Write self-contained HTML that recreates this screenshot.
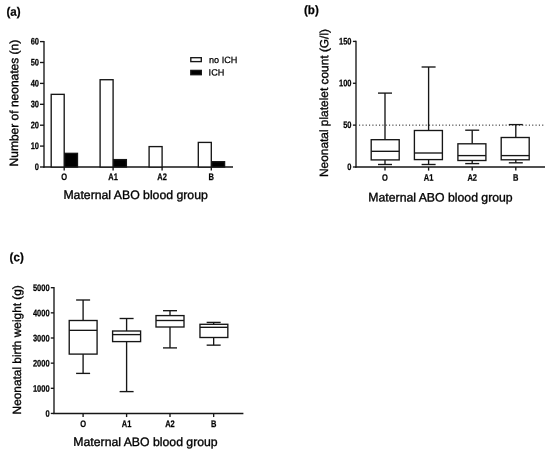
<!DOCTYPE html>
<html lang="en"><head><meta charset="utf-8"><title>Figure</title>
<style>
html,body{margin:0;padding:0;background:#fff;}
svg{display:block;}
svg line,svg rect{stroke:#161616;stroke-width:1.35;shape-rendering:geometricPrecision;}
svg line{stroke-linecap:butt;}
text{font-family:"Liberation Sans",sans-serif;fill:#000;}
.tk{font-size:9.5px;font-weight:bold;stroke:#111;stroke-width:0.26px;}
.ti{font-size:12.25px;stroke:#000;stroke-width:0.34px;}
.tv{font-size:12.0px;}
.lg{font-size:9.1px;stroke:#000;stroke-width:0.25px;}
.pl{font-size:12.2px;font-weight:bold;stroke:#111;stroke-width:0.25px;}
</style></head><body>
<svg width="550" height="456" viewBox="0 0 550 456">
<rect x="0" y="0" width="550" height="456" fill="#fff" style="stroke:none"/>
<line x1="44.00" y1="40.93" x2="44.00" y2="167.68" />
<line x1="43.33" y1="167.00" x2="233.00" y2="167.00" />
<line x1="40.00" y1="167.00" x2="44.00" y2="167.00" />
<text transform="translate(39.00,170.00) rotate(0.1) scale(0.79,1)" class="tk" text-anchor="end">0</text>
<line x1="40.00" y1="146.10" x2="44.00" y2="146.10" />
<text transform="translate(39.00,149.10) rotate(0.1) scale(0.79,1)" class="tk" text-anchor="end">10</text>
<line x1="40.00" y1="125.20" x2="44.00" y2="125.20" />
<text transform="translate(39.00,128.20) rotate(0.1) scale(0.79,1)" class="tk" text-anchor="end">20</text>
<line x1="40.00" y1="104.30" x2="44.00" y2="104.30" />
<text transform="translate(39.00,107.30) rotate(0.1) scale(0.79,1)" class="tk" text-anchor="end">30</text>
<line x1="40.00" y1="83.40" x2="44.00" y2="83.40" />
<text transform="translate(39.00,86.40) rotate(0.1) scale(0.79,1)" class="tk" text-anchor="end">40</text>
<line x1="40.00" y1="62.50" x2="44.00" y2="62.50" />
<text transform="translate(39.00,65.50) rotate(0.1) scale(0.79,1)" class="tk" text-anchor="end">50</text>
<line x1="40.00" y1="41.60" x2="44.00" y2="41.60" />
<text transform="translate(39.00,44.60) rotate(0.1) scale(0.79,1)" class="tk" text-anchor="end">60</text>
<line x1="64.20" y1="167.00" x2="64.20" y2="170.60" />
<text transform="translate(64.20,180.00) rotate(0.1) scale(0.79,1)" class="tk" text-anchor="middle">O</text>
<line x1="113.10" y1="167.00" x2="113.10" y2="170.60" />
<text transform="translate(113.10,180.00) rotate(0.1) scale(0.79,1)" class="tk" text-anchor="middle">A1</text>
<line x1="162.10" y1="167.00" x2="162.10" y2="170.60" />
<text transform="translate(162.10,180.00) rotate(0.1) scale(0.79,1)" class="tk" text-anchor="middle">A2</text>
<line x1="211.30" y1="167.00" x2="211.30" y2="170.60" />
<text transform="translate(211.30,180.00) rotate(0.1) scale(0.79,1)" class="tk" text-anchor="middle">B</text>
<rect x="51.20" y="94.35" width="13.00" height="72.65" fill="#fff"/>
<rect x="64.67" y="153.35" width="12.80" height="13.65" fill="#000"/>
<rect x="100.10" y="79.72" width="13.00" height="87.28" fill="#fff"/>
<rect x="113.57" y="159.62" width="12.80" height="7.38" fill="#000"/>
<rect x="149.10" y="146.60" width="13.00" height="20.40" fill="#fff"/>
<rect x="198.30" y="142.42" width="13.00" height="24.58" fill="#fff"/>
<rect x="211.78" y="161.71" width="12.80" height="5.29" fill="#000"/>
<rect x="190.80" y="57.70" width="10.50" height="3.90" fill="#fff"/>
<rect x="190.80" y="70.40" width="10.50" height="4.30" fill="#000"/>
<text transform="translate(209.00,63.00) rotate(0.1)" class="lg" text-anchor="start" >no ICH</text>
<text transform="translate(208.60,75.60) rotate(0.1)" class="lg" text-anchor="start" >ICH</text>
<text transform="translate(6.5,15.8) rotate(0.1) scale(0.95,1)" class="pl">(a)</text>
<text transform="translate(135.60,199.00) rotate(0.1)" class="ti" text-anchor="middle" >Maternal ABO blood group</text>
<text transform="translate(18.2,103.1) rotate(-89.9)" class="ti tv" text-anchor="middle">Number of neonates (n)</text>
<line x1="356.00" y1="40.73" x2="356.00" y2="167.68" />
<line x1="355.32" y1="167.00" x2="545.00" y2="167.00" />
<line x1="352.90" y1="167.00" x2="356.00" y2="167.00" />
<text transform="translate(351.50,170.00) rotate(0.1) scale(0.79,1)" class="tk" text-anchor="end">0</text>
<line x1="352.90" y1="125.13" x2="356.00" y2="125.13" />
<text transform="translate(351.50,128.13) rotate(0.1) scale(0.79,1)" class="tk" text-anchor="end">50</text>
<line x1="352.90" y1="83.27" x2="356.00" y2="83.27" />
<text transform="translate(351.50,86.27) rotate(0.1) scale(0.79,1)" class="tk" text-anchor="end">100</text>
<line x1="352.90" y1="41.40" x2="356.00" y2="41.40" />
<text transform="translate(351.50,44.40) rotate(0.1) scale(0.79,1)" class="tk" text-anchor="end">150</text>
<line x1="385.00" y1="167.00" x2="385.00" y2="170.60" />
<text transform="translate(385.00,180.70) rotate(0.1) scale(0.79,1)" class="tk" text-anchor="middle">O</text>
<line x1="428.60" y1="167.00" x2="428.60" y2="170.60" />
<text transform="translate(428.60,180.70) rotate(0.1) scale(0.79,1)" class="tk" text-anchor="middle">A1</text>
<line x1="472.20" y1="167.00" x2="472.20" y2="170.60" />
<text transform="translate(472.20,180.70) rotate(0.1) scale(0.79,1)" class="tk" text-anchor="middle">A2</text>
<line x1="515.80" y1="167.00" x2="515.80" y2="170.60" />
<text transform="translate(515.80,180.70) rotate(0.1) scale(0.79,1)" class="tk" text-anchor="middle">B</text>
<line x1="359.05" y1="125.13" x2="545.00" y2="125.13" stroke-dasharray="1.1 2.23" style="stroke:#111;stroke-width:1.0"/>
<line x1="385.00" y1="93.10" x2="385.00" y2="139.70" />
<line x1="385.00" y1="159.90" x2="385.00" y2="164.50" />
<line x1="378.00" y1="93.10" x2="392.00" y2="93.10" />
<line x1="378.00" y1="164.50" x2="392.00" y2="164.50" />
<rect x="371.20" y="139.70" width="28.00" height="20.20" fill="#fff"/>
<line x1="371.20" y1="151.30" x2="399.20" y2="151.30" />
<line x1="428.60" y1="67.00" x2="428.60" y2="130.50" />
<line x1="428.60" y1="159.60" x2="428.60" y2="164.50" />
<line x1="421.60" y1="67.00" x2="435.60" y2="67.00" />
<line x1="421.60" y1="164.50" x2="435.60" y2="164.50" />
<rect x="414.40" y="130.50" width="28.00" height="29.10" fill="#fff"/>
<line x1="414.40" y1="153.00" x2="442.40" y2="153.00" />
<line x1="472.20" y1="130.20" x2="472.20" y2="143.80" />
<line x1="472.20" y1="160.50" x2="472.20" y2="163.60" />
<line x1="465.20" y1="130.20" x2="479.20" y2="130.20" />
<line x1="465.20" y1="163.60" x2="479.20" y2="163.60" />
<rect x="457.90" y="143.80" width="28.00" height="16.70" fill="#fff"/>
<line x1="457.90" y1="155.60" x2="485.90" y2="155.60" />
<line x1="515.80" y1="124.60" x2="515.80" y2="137.50" />
<line x1="515.80" y1="159.80" x2="515.80" y2="162.80" />
<line x1="508.80" y1="124.60" x2="522.80" y2="124.60" />
<line x1="508.80" y1="162.80" x2="522.80" y2="162.80" />
<rect x="501.20" y="137.50" width="28.00" height="22.30" fill="#fff"/>
<line x1="501.20" y1="155.60" x2="529.20" y2="155.60" />
<text transform="translate(304.0,14.1) rotate(0.1) scale(0.95,1)" class="pl">(b)</text>
<text transform="translate(440.50,201.50) rotate(0.1)" class="ti" text-anchor="middle" >Maternal ABO blood group</text>
<text transform="translate(328.1,103.0) rotate(-89.9)" class="ti tv" style="font-size:11.9px" text-anchor="middle">Neonatal platelet count (G/l)</text>
<line x1="54.00" y1="287.02" x2="54.00" y2="414.12" />
<line x1="53.33" y1="413.45" x2="243.40" y2="413.45" />
<line x1="50.80" y1="413.45" x2="54.00" y2="413.45" />
<text transform="translate(49.60,416.85) rotate(0.1) scale(0.79,1)" class="tk" text-anchor="end">0</text>
<line x1="50.80" y1="388.30" x2="54.00" y2="388.30" />
<text transform="translate(49.60,391.70) rotate(0.1) scale(0.79,1)" class="tk" text-anchor="end">1000</text>
<line x1="50.80" y1="363.15" x2="54.00" y2="363.15" />
<text transform="translate(49.60,366.55) rotate(0.1) scale(0.79,1)" class="tk" text-anchor="end">2000</text>
<line x1="50.80" y1="338.00" x2="54.00" y2="338.00" />
<text transform="translate(49.60,341.40) rotate(0.1) scale(0.79,1)" class="tk" text-anchor="end">3000</text>
<line x1="50.80" y1="312.85" x2="54.00" y2="312.85" />
<text transform="translate(49.60,316.25) rotate(0.1) scale(0.79,1)" class="tk" text-anchor="end">4000</text>
<line x1="50.80" y1="287.70" x2="54.00" y2="287.70" />
<text transform="translate(49.60,291.10) rotate(0.1) scale(0.79,1)" class="tk" text-anchor="end">5000</text>
<line x1="83.10" y1="413.45" x2="83.10" y2="417.05" />
<text transform="translate(83.10,427.05) rotate(0.1) scale(0.79,1)" class="tk" text-anchor="middle">O</text>
<line x1="126.60" y1="413.45" x2="126.60" y2="417.05" />
<text transform="translate(126.60,427.05) rotate(0.1) scale(0.79,1)" class="tk" text-anchor="middle">A1</text>
<line x1="170.00" y1="413.45" x2="170.00" y2="417.05" />
<text transform="translate(170.00,427.05) rotate(0.1) scale(0.79,1)" class="tk" text-anchor="middle">A2</text>
<line x1="213.65" y1="413.45" x2="213.65" y2="417.05" />
<text transform="translate(213.65,427.05) rotate(0.1) scale(0.79,1)" class="tk" text-anchor="middle">B</text>
<line x1="83.10" y1="300.00" x2="83.10" y2="320.50" />
<line x1="83.10" y1="354.10" x2="83.10" y2="373.40" />
<line x1="76.10" y1="300.00" x2="90.10" y2="300.00" />
<line x1="76.10" y1="373.40" x2="90.10" y2="373.40" />
<rect x="69.22" y="320.50" width="27.86" height="33.60" fill="#fff"/>
<line x1="69.22" y1="330.35" x2="97.08" y2="330.35" />
<line x1="126.60" y1="318.50" x2="126.60" y2="331.00" />
<line x1="126.60" y1="341.60" x2="126.60" y2="391.60" />
<line x1="119.60" y1="318.50" x2="133.60" y2="318.50" />
<line x1="119.60" y1="391.60" x2="133.60" y2="391.60" />
<rect x="112.60" y="331.00" width="28.00" height="10.60" fill="#fff"/>
<line x1="112.60" y1="334.60" x2="140.60" y2="334.60" />
<line x1="170.00" y1="310.70" x2="170.00" y2="315.60" />
<line x1="170.00" y1="327.00" x2="170.00" y2="347.90" />
<line x1="163.00" y1="310.70" x2="177.00" y2="310.70" />
<line x1="163.00" y1="347.90" x2="177.00" y2="347.90" />
<rect x="156.00" y="315.60" width="28.00" height="11.40" fill="#fff"/>
<line x1="156.00" y1="320.50" x2="184.00" y2="320.50" />
<line x1="213.65" y1="322.40" x2="213.65" y2="324.30" />
<line x1="213.65" y1="337.50" x2="213.65" y2="345.15" />
<line x1="206.65" y1="322.40" x2="220.65" y2="322.40" />
<line x1="206.65" y1="345.15" x2="220.65" y2="345.15" />
<rect x="199.97" y="324.30" width="27.86" height="13.20" fill="#fff"/>
<line x1="199.97" y1="327.30" x2="227.83" y2="327.30" />
<text transform="translate(9.6,261.3) rotate(0.1) scale(0.95,1)" class="pl">(c)</text>
<text transform="translate(145.50,446.00) rotate(0.1)" class="ti" text-anchor="middle" >Maternal ABO blood group</text>
<text transform="translate(21.0,349.8) rotate(-89.9)" class="ti tv" style="font-size:11.87px" text-anchor="middle">Neonatal birth weight (g)</text>
</svg>
</body></html>
